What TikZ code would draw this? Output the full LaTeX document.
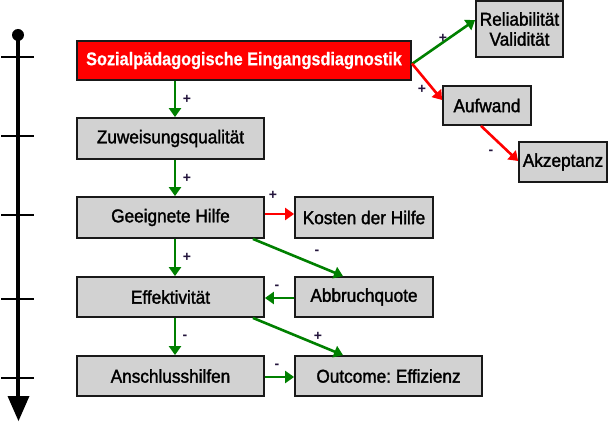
\documentclass[tikz,border=0pt]{standalone}
\usepackage{fontspec}
\setmainfont{Liberation Sans}
\newfontfamily\boxfont[FakeStretch=0.93,FakeBold=1.6]{Liberation Sans}
\newfontfamily\redfont[FakeStretch=0.88,FakeBold=0.5]{Liberation Sans Bold}
\usetikzlibrary{arrows.meta}
\definecolor{boxgray}{RGB}{210,210,210}
\definecolor{boxline}{RGB}{25,25,25}
\definecolor{arrgreen}{RGB}{0,128,0}
\definecolor{arrred}{RGB}{255,0,0}
\definecolor{signcol}{RGB}{35,20,60}
\tikzset{
  x=1pt, y=-1pt,
  gbox/.style={draw=boxline, line width=1.8pt, fill=boxgray, inner sep=0pt,
    font=\boxfont\fontsize{18.5}{20}\selectfont, text=black, align=center},
  rbox/.style={draw=boxline, line width=1.8pt, fill=arrred, inner sep=0pt,
    font=\redfont\fontsize{18.5}{20}\selectfont, text=white},
  garr/.style={draw=arrgreen, line width=2.6pt, -{Triangle[length=9pt,width=12pt]}},
  rarr/.style={draw=arrred, line width=2.6pt, -{Triangle[length=9pt,width=12pt]}},
  sign/.style={font=\fontsize{14}{14}\selectfont\bfseries, text=signcol, inner sep=0pt},
  tick/.style={draw=black, line width=1.5pt},
}
\begin{document}
\begin{tikzpicture}
\useasboundingbox (0,0) rectangle (609,422);
% timeline
\coordinate (tltop) at (18,35);
\coordinate (tlbot) at (18,400);
\draw[line width=3.5pt] (tltop) -- (tlbot);
\fill (tltop) circle (6);
\fill (7.5,396) -- (29.5,396) -- (18.5,421) -- cycle;
\foreach \yy in {57,136,215,299,378}{
  \draw[tick] (1,\yy) -- (34,\yy);
}
% boxes
\node[rbox, minimum width=334pt, minimum height=39pt] (diag) at (244,60.5) {Sozialpädagogische Eingangsdiagnostik};
\node[gbox, minimum width=187pt, minimum height=41pt] (zuw) at (170.5,138.5) {Zuweisungsqualität};
\node[gbox, minimum width=187pt, minimum height=41pt] (geh) at (170.5,217.5) {Geeignete Hilfe};
\node[gbox, minimum width=187pt, minimum height=40pt] (eff) at (170.5,297) {Effektivität};
\node[gbox, minimum width=187pt, minimum height=40pt] (ans) at (170.5,376) {Anschlusshilfen};
\node[gbox, minimum width=138pt, minimum height=41pt] (kos) at (364,217.5) {Kosten der Hilfe};
\node[gbox, minimum width=138pt, minimum height=40pt] (abb) at (364,297) {Abbruchquote};
\node[gbox, minimum width=187pt, minimum height=40pt] (out) at (388.5,376) {Outcome:\hspace{-1.5pt} Effizienz};
\node[gbox, minimum width=87pt, minimum height=56pt] (rel) at (519.5,29) {Reliabilität\\Validität};
\node[gbox, minimum width=88pt, minimum height=39pt] (auf) at (487,105.5) {Aufwand};
\node[gbox, minimum width=88pt, minimum height=40pt] (akz) at (563,162) {Akzeptanz};
% arrows
\draw[garr] ([xshift=4.5pt]zuw.north |- diag.south) -- ([xshift=4.5pt]zuw.north);
\draw[garr] ([xshift=4.5pt]zuw.south) -- ([xshift=4.5pt]geh.north);
\draw[garr] ([xshift=4.5pt]geh.south) -- ([xshift=4.5pt]eff.north);
\draw[garr] ([xshift=4.5pt]eff.south) -- ([xshift=4.5pt]ans.north);
\draw[rarr] ([yshift=3.5pt]geh.east) -- ([yshift=3.5pt]kos.west);
\draw[garr] ([xshift=-12pt]geh.south east) -- ([xshift=-21pt]abb.north);
\draw[garr] ([yshift=-1pt]abb.west) -- ([yshift=-1pt]eff.east);
\draw[garr] ([xshift=-12pt]eff.south east) -- ([xshift=-45.5pt]out.north);
\draw[garr] ([yshift=-1pt]ans.east) -- ([yshift=-1pt]out.west);
\draw[garr] ([yshift=-3.5pt]diag.east) -- ([yshift=9pt]rel.west);
\draw[rarr] ([yshift=-3pt]diag.east) -- ([yshift=5.5pt]auf.west);
\draw[rarr] ([xshift=-6pt]auf.south) -- ([yshift=1pt]akz.west);
% signs
\node[sign] (s1) at (187,99) {+};
\node[sign] (s2) at (187,178) {+};
\node[sign] (s3) at (187,257) {+};
\node[sign] (s4) at (185,337) {-};
\node[sign] (s5) at (273,195) {+};
\node[sign] (s6) at (317,252) {-};
\node[sign] (s7) at (277,287) {-};
\node[sign] (s8) at (318,336) {+};
\node[sign] (s9) at (277,366) {-};
\node[sign] (s10) at (443,38) {+};
\node[sign] (s11) at (422,89) {+};
\node[sign] (s12) at (491,152) {-};
\end{tikzpicture}
\end{document}
